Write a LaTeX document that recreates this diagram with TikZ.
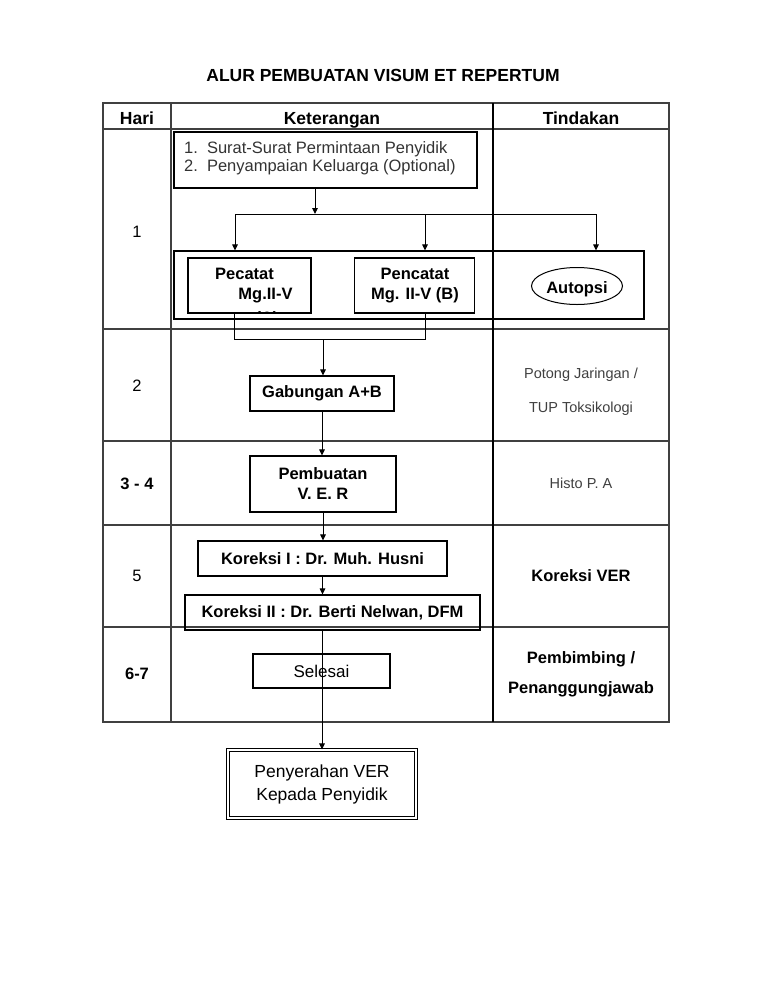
\documentclass[tikz,border=0pt]{standalone}
\usepackage{fontspec}
\setmainfont{Liberation Sans}
\usetikzlibrary{arrows.meta,shapes.geometric}
\begin{document}
\begin{tikzpicture}[x=1pt,y=-1pt,
  box/.style={draw, line width=1.1pt, inner sep=0pt, align=center},
  lbl/.style={inner sep=0pt, anchor=base, font=\fontsize{16.5}{20}\selectfont},
  blbl/.style={inner sep=0pt, anchor=base, font=\fontsize{16.5}{20}\selectfont\bfseries},
  hlbl/.style={inner sep=0pt, anchor=base, font=\fontsize{17.5}{20}\selectfont\bfseries},
  small/.style={inner sep=0pt, anchor=base, font=\fontsize{14.5}{17}\selectfont, text=black!75},
  stxt/.style={inner sep=0pt, anchor=base west, font=\fontsize{16.5}{19}\selectfont, text=black!80},
  arr/.style={line width=1pt, -{Triangle[length=6pt,width=5.5pt]}},
  ln/.style={line width=1pt},
  tbl/.style={line width=1.2pt, draw=black!75}]
\useasboundingbox (0,0) rectangle (768,994);
\fill[white] (0,0) rectangle (768,994);

% title
\node[hlbl] (title) at (383,81.3) {ALUR PEMBUATAN VISUM ET REPERTUM};

% table
\draw[tbl] (103,103) rectangle (669,722);
\draw[tbl] (103,129) -- (669,129);
\draw[tbl] (103,329) -- (669,329);
\draw[tbl] (103,441) -- (669,441);
\draw[tbl] (103,525) -- (669,525);
\draw[tbl] (103,627) -- (669,627);
\draw[tbl] (171,103) -- (171,722);
\draw[line width=1.1pt] (493,103) -- (493,722);

% header
\node[hlbl] (hhari) at (137,124.3) {Hari};
\node[hlbl] (hket) at (332,124.3) {Keterangan};
\node[hlbl] (htin) at (581,124.3) {Tindakan};

% left column
\node[lbl] (d1) at (137,237) {1};
\node[lbl] (d2) at (137,391) {2};
\node[blbl] (d34) at (137,489) {3 - 4};
\node[lbl] (d5) at (137,581) {5};
\node[blbl] (d67) at (137,679) {6-7};

% right column
\node[small] (t1) at (581,378.2) {Potong Jaringan /};
\node[small] (t2) at (581,412.2) {TUP Toksikologi};
\node[small] (t3) at (581,488.2) {Histo P. A};
\node[blbl] (t4) at (581,581) {Koreksi VER};
\node[blbl] (t5) at (581,663) {Pembimbing /};
\node[blbl] (t6) at (581,693) {Penanggungjawab};

% row 1
\node[box, minimum width=303pt, minimum height=56pt] (surat) at (325.5,160) {};
\node[stxt] (sur1) at (184,153.5) {1.\hspace{0.55em}Surat-Surat Permintaan Penyidik};
\node[stxt] (sur2) at (184,171.5) {2.\hspace{0.55em}Penyampaian Keluarga (Optional)};

\coordinate (split) at (315,214);
\coordinate (sl) at (235,214);
\coordinate (sm) at (425,214);
\coordinate (sr) at (596,214);
\draw[arr] (surat.south -| split) -- (split);
\draw[ln] (sl) -- (sr);

\node[box, minimum width=470pt, minimum height=68pt] (grp) at (409,285) {};
\draw[arr] (sl) -- (sl |- grp.north);
\draw[arr] (sm) -- (sm |- grp.north);
\draw[arr] (sr) -- (sr |- grp.north);

\node[box, minimum width=123pt, minimum height=55pt] (pa) at (249.5,285.5) {};
\node[blbl] (pat1) at (244.5,279) {Pecatat};
\node[blbl] (pat2) at (265.5,299) {Mg.II-V};
\begin{scope}
  \clip (189,259) rectangle (310,311);
  \node[inner sep=0pt, font=\fontsize{16.5}{20}\selectfont\bfseries] (pat3) at (267,319) {(A)};
\end{scope}

\node[box, minimum width=120pt, minimum height=55pt] (pb) at (414.5,285.5) {};
\node[blbl] (pbt1) at (415,279) {Pencatat};
\node[blbl] (pbt2) at (415,299) {Mg. II-V (B)};

\node[draw, ellipse, line width=1pt, minimum width=91pt, minimum height=37pt,
      inner sep=0pt] (aut) at (577,286) {};
\node[blbl] (autt) at (577,293) {Autopsi};

% bracket
\coordinate (bl) at (234,339);
\coordinate (br) at (425,339);
\coordinate (bm) at (323,339);
\draw[ln] (pa.south -| bl) -- (bl) -- (br) -- (pb.south -| br);

% rows 2..
\node[box, minimum width=144pt, minimum height=35pt, font=\fontsize{16.5}{20}\selectfont\bfseries] (gab) at (322,393.5) {Gabungan A+B};
\draw[arr] (bm) -- (bm |- gab.north);

\node[box, minimum width=146pt, minimum height=56pt, font=\fontsize{16.5}{20}\selectfont\bfseries] (pemb) at (323,484) {Pembuatan\\V. E. R};
\draw[arr] (gab.south) -- (gab.south |- pemb.north);

\node[box, minimum width=249pt, minimum height=35pt, font=\fontsize{16.5}{20}\selectfont\bfseries] (k1) at (322.5,558.5) {Koreksi I : Dr. Muh. Husni};
\draw[arr] (pemb.south) -- (pemb.south |- k1.north);

\node[box, minimum width=295pt, minimum height=35pt, font=\fontsize{16.5}{20}\selectfont\bfseries] (k2) at (332.5,612.5) {Koreksi II : Dr. Berti Nelwan, DFM};
\draw[arr] (k1.south) -- (k1.south |- k2.north);

\node[box, minimum width=137pt, minimum height=34pt, font=\fontsize{17}{20}\selectfont] (sel) at (321.5,671) {Selesai};

\node[draw, double, double distance=1.8pt, line width=1.1pt, inner sep=0pt,
      minimum width=188pt, minimum height=68pt, align=center,
      font=\fontsize{17.5}{23}\selectfont] (pen) at (322,784) {Penyerahan VER\\Kepada Penyidik};
\draw[arr] (k2.south -| pen.north) -- (pen.north);

\end{tikzpicture}
\end{document}
